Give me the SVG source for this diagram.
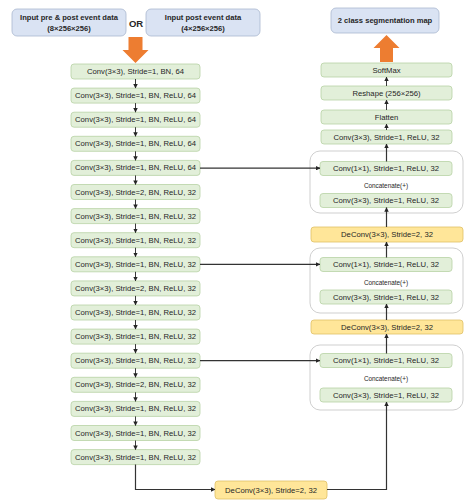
<svg xmlns="http://www.w3.org/2000/svg" width="474" height="502" viewBox="0 0 474 502">
<style>
.g{fill:#e2efd9;stroke:#b8d2a5;stroke-width:0.8}
.y{fill:#ffe699;stroke:#dfc066;stroke-width:0.8}
.b{fill:#dae3f3;stroke:#a9b8cf;stroke-width:0.8}
.grp{fill:#fff;stroke:#c9c9c9;stroke-width:0.9}
text{font-family:"Liberation Sans",Arial,sans-serif;font-size:7.7px;fill:#262626;text-anchor:middle;dominant-baseline:central}
.bt{font-weight:bold;font-size:7.6px}
.or{font-weight:bold;font-size:9.5px}
.cc{font-size:6.4px}
.c line,.c path{stroke:#262626;stroke-width:0.9;fill:none}
.c .s{stroke-width:1.2;stroke:#333}
.arr{fill:#ed7d31}
</style>
<defs>
<marker id="a" viewBox="0 0 6 6" refX="5.5" refY="3" markerWidth="4.5" markerHeight="4.5" orient="auto" markerUnits="userSpaceOnUse">
<path d="M0,0 L6,3 L0,6 z" fill="#262626"/>
</marker>
</defs>

<g id="in1"><rect class="b" x="12" y="9" width="114" height="27" rx="5"/><text class="bt" x="69" y="17.5">Input pre &amp; post event data</text><text class="bt" x="69" y="28">(8×256×256)</text></g>
<g id="or"><text class="or" x="136" y="23">OR</text></g>
<g id="in2"><rect class="b" x="146" y="9" width="114" height="27" rx="5"/><text class="bt" x="203" y="17.5">Input post event data</text><text class="bt" x="203" y="28">(4×256×256)</text></g>
<g id="out"><rect class="b" x="331" y="8" width="108" height="25" rx="5"/><text class="bt" x="385" y="20.5">2 class segmentation map</text></g>

<g id="arrowIn"><path class="arr" d="M128.5,37 H142.5 V50 H148.5 L135.5,63 L122.5,50 H128.5 Z"/></g>
<g id="arrowOut"><path class="arr" d="M380,62 V48 H373.5 L386.5,35 L399.5,48 H393 V62 Z"/></g>

<g id="L1"><rect class="g" x="71" y="64" width="129" height="15" rx="3"/><text x="135.5" y="71.5">Conv(3×3), Stride=1, BN, 64</text></g>
<g id="L2"><rect class="g" x="71" y="88.1" width="129" height="15" rx="3"/><text x="135.5" y="95.6">Conv(3×3), Stride=1, BN, ReLU, 64</text></g>
<g id="L3"><rect class="g" x="71" y="112.2" width="129" height="15" rx="3"/><text x="135.5" y="119.7">Conv(3×3), Stride=1, BN, ReLU, 64</text></g>
<g id="L4"><rect class="g" x="71" y="136.3" width="129" height="15" rx="3"/><text x="135.5" y="143.8">Conv(3×3), Stride=1, BN, ReLU, 64</text></g>
<g id="L5"><rect class="g" x="71" y="160.4" width="129" height="15" rx="3"/><text x="135.5" y="167.9">Conv(3×3), Stride=1, BN, ReLU, 64</text></g>
<g id="L6"><rect class="g" x="71" y="184.5" width="129" height="15" rx="3"/><text x="135.5" y="192">Conv(3×3), Stride=2, BN, ReLU, 32</text></g>
<g id="L7"><rect class="g" x="71" y="208.6" width="129" height="15" rx="3"/><text x="135.5" y="216.1">Conv(3×3), Stride=1, BN, ReLU, 32</text></g>
<g id="L8"><rect class="g" x="71" y="232.7" width="129" height="15" rx="3"/><text x="135.5" y="240.2">Conv(3×3), Stride=1, BN, ReLU, 32</text></g>
<g id="L9"><rect class="g" x="71" y="256.8" width="129" height="15" rx="3"/><text x="135.5" y="264.3">Conv(3×3), Stride=1, BN, ReLU, 32</text></g>
<g id="L10"><rect class="g" x="71" y="280.9" width="129" height="15" rx="3"/><text x="135.5" y="288.4">Conv(3×3), Stride=2, BN, ReLU, 32</text></g>
<g id="L11"><rect class="g" x="71" y="305" width="129" height="15" rx="3"/><text x="135.5" y="312.5">Conv(3×3), Stride=1, BN, ReLU, 32</text></g>
<g id="L12"><rect class="g" x="71" y="329.1" width="129" height="15" rx="3"/><text x="135.5" y="336.6">Conv(3×3), Stride=1, BN, ReLU, 32</text></g>
<g id="L13"><rect class="g" x="71" y="353.2" width="129" height="15" rx="3"/><text x="135.5" y="360.7">Conv(3×3), Stride=1, BN, ReLU, 32</text></g>
<g id="L14"><rect class="g" x="71" y="377.3" width="129" height="15" rx="3"/><text x="135.5" y="384.8">Conv(3×3), Stride=2, BN, ReLU, 32</text></g>
<g id="L15"><rect class="g" x="71" y="401.4" width="129" height="15" rx="3"/><text x="135.5" y="408.9">Conv(3×3), Stride=1, BN, ReLU, 32</text></g>
<g id="L16"><rect class="g" x="71" y="425.5" width="129" height="15" rx="3"/><text x="135.5" y="433">Conv(3×3), Stride=1, BN, ReLU, 32</text></g>
<g id="L17"><rect class="g" x="71" y="449.6" width="129" height="15" rx="3"/><text x="135.5" y="457.1">Conv(3×3), Stride=1, BN, ReLU, 32</text></g>

<g id="softmax"><rect class="g" x="321" y="63" width="131" height="14" rx="3"/><text x="386.5" y="70">SoftMax</text></g>
<g id="reshape"><rect class="g" x="321" y="86" width="131" height="14" rx="3"/><text x="386.5" y="93">Reshape (256×256)</text></g>
<g id="flatten"><rect class="g" x="321" y="110" width="131" height="14" rx="3"/><text x="386.5" y="117">Flatten</text></g>
<g id="R1"><rect class="g" x="321" y="130" width="131" height="14" rx="3"/><text x="386.5" y="137">Conv(3×3), Stride=1, ReLU, 32</text></g>

<g id="G1"><rect class="grp" x="310" y="151" width="153" height="62" rx="10"/>
<rect class="g" x="320" y="161.5" width="132" height="14" rx="3"/><text x="386" y="168.5">Conv(1×1), Stride=1, ReLU, 32</text>
<text class="cc" x="386" y="185">Concatenate(+)</text>
<rect class="g" x="320" y="193.5" width="132" height="14" rx="3"/><text x="386" y="200.5">Conv(3×3), Stride=1, ReLU, 32</text></g>
<g id="D1"><rect class="y" x="311" y="227" width="152" height="15" rx="3"/><text x="387" y="234.5">DeConv(3×3), Stride=2, 32</text></g>
<g id="G2"><rect class="grp" x="310" y="248" width="153" height="65" rx="10"/>
<rect class="g" x="320" y="257.5" width="132" height="14" rx="3"/><text x="386" y="264.5">Conv(1×1), Stride=1, ReLU, 32</text>
<text class="cc" x="386" y="282">Concatenate(+)</text>
<rect class="g" x="320" y="290" width="132" height="14" rx="3"/><text x="386" y="297">Conv(3×3), Stride=1, ReLU, 32</text></g>
<g id="D2"><rect class="y" x="311" y="320" width="152" height="14" rx="3"/><text x="387" y="327">DeConv(3×3), Stride=2, 32</text></g>
<g id="G3"><rect class="grp" x="310" y="345" width="153" height="65" rx="10"/>
<rect class="g" x="320" y="353.5" width="132" height="14" rx="3"/><text x="386" y="360.5">Conv(1×1), Stride=1, ReLU, 32</text>
<text class="cc" x="386" y="378">Concatenate(+)</text>
<rect class="g" x="320" y="388" width="132" height="14" rx="3"/><text x="386" y="395">Conv(3×3), Stride=1, ReLU, 32</text></g>
<g id="D3"><rect class="y" x="215" y="481" width="112" height="18" rx="3"/><text x="271" y="490">DeConv(3×3), Stride=2, 32</text></g>

<g class="c" id="connectors">
<line x1="135.5" y1="79" x2="135.5" y2="88.1" marker-end="url(#a)"/>
<line x1="135.5" y1="103.1" x2="135.5" y2="112.2" marker-end="url(#a)"/>
<line x1="135.5" y1="127.2" x2="135.5" y2="136.3" marker-end="url(#a)"/>
<line x1="135.5" y1="151.3" x2="135.5" y2="160.4" marker-end="url(#a)"/>
<line x1="135.5" y1="175.4" x2="135.5" y2="184.5" marker-end="url(#a)"/>
<line x1="135.5" y1="199.5" x2="135.5" y2="208.6" marker-end="url(#a)"/>
<line x1="135.5" y1="223.6" x2="135.5" y2="232.7" marker-end="url(#a)"/>
<line x1="135.5" y1="247.7" x2="135.5" y2="256.8" marker-end="url(#a)"/>
<line x1="135.5" y1="271.8" x2="135.5" y2="280.9" marker-end="url(#a)"/>
<line x1="135.5" y1="295.9" x2="135.5" y2="305" marker-end="url(#a)"/>
<line x1="135.5" y1="320" x2="135.5" y2="329.1" marker-end="url(#a)"/>
<line x1="135.5" y1="344.1" x2="135.5" y2="353.2" marker-end="url(#a)"/>
<line x1="135.5" y1="368.2" x2="135.5" y2="377.3" marker-end="url(#a)"/>
<line x1="135.5" y1="392.3" x2="135.5" y2="401.4" marker-end="url(#a)"/>
<line x1="135.5" y1="416.4" x2="135.5" y2="425.5" marker-end="url(#a)"/>
<line x1="135.5" y1="440.5" x2="135.5" y2="449.6" marker-end="url(#a)"/>
<line class="s" x1="200" y1="168.2" x2="320" y2="168.2" marker-end="url(#a)"/>
<line class="s" x1="200" y1="264.4" x2="320" y2="264.4" marker-end="url(#a)"/>
<line class="s" x1="200" y1="360.6" x2="320" y2="360.6" marker-end="url(#a)"/>
<path class="s" d="M135.5,464.6 V489.5 H215" marker-end="url(#a)"/>
<path class="s" d="M327,489.5 H386.5 V402" marker-end="url(#a)"/>
<line class="s" x1="386.5" y1="353.5" x2="386.5" y2="334" marker-end="url(#a)"/>
<line class="s" x1="386.5" y1="320" x2="386.5" y2="304" marker-end="url(#a)"/>
<line class="s" x1="386.5" y1="257.5" x2="386.5" y2="242" marker-end="url(#a)"/>
<line class="s" x1="386.5" y1="227" x2="386.5" y2="207.5" marker-end="url(#a)"/>
<line class="s" x1="386.5" y1="161.5" x2="386.5" y2="144" marker-end="url(#a)"/>
<line x1="386.5" y1="130" x2="386.5" y2="124" marker-end="url(#a)"/>
<line x1="386.5" y1="110" x2="386.5" y2="100" marker-end="url(#a)"/>
<line x1="386.5" y1="86" x2="386.5" y2="77" marker-end="url(#a)"/>
</g>
</svg>
